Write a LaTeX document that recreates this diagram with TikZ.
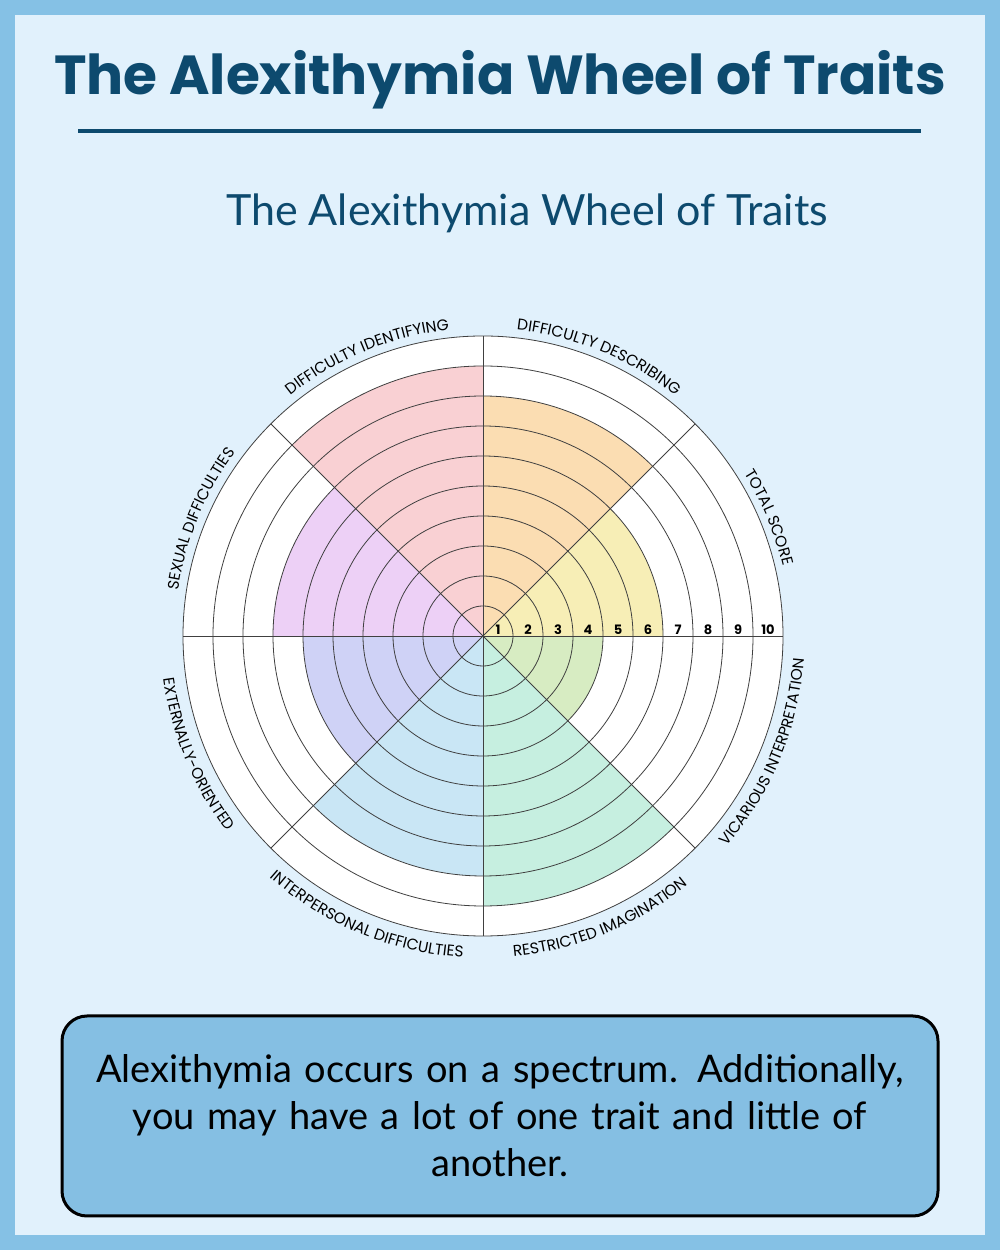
\documentclass[tikz,border=0pt]{standalone}
\usepackage{fontspec}
\setmainfont{Lato}
\newfontfamily\titlefont{Poppins}
\newfontfamily\labfont{Poppins}
\usetikzlibrary{decorations.text}
\definecolor{border}{HTML}{85C1E5}
\definecolor{bg}{HTML}{E1F1FC}
\definecolor{navy}{HTML}{0D4A6E}
\definecolor{boxc}{HTML}{85BFE3}
\definecolor{cpink}{HTML}{F9D0D3}
\definecolor{corange}{HTML}{FBDDB2}
\definecolor{cyellow}{HTML}{F7EEB6}
\definecolor{cgreen}{HTML}{D7ECC2}
\definecolor{cmint}{HTML}{C6EFE0}
\definecolor{cblue}{HTML}{C9E6F5}
\definecolor{clav}{HTML}{CFD2F6}
\definecolor{cviol}{HTML}{EDD0F6}
\tikzset{
  ring/.style={draw=black!75,line width=0.8pt},
  numlab/.style={font=\labfont\bfseries\fontsize{13}{13}\selectfont,anchor=south,inner sep=1pt},
}
\newcommand{\sect}[4]{\fill[#1] (0,0) -- (#2:#4) arc[start angle=#2,end angle=#3,radius=#4] -- cycle;}
\newcommand{\toplab}[2]{\path[decorate,decoration={text along path,text align=center,text={|\labfont\fontsize{15.5}{15.5}\selectfont|#2}}] (#1+44:308) arc[start angle=#1+44,end angle=#1-44,radius=308];}
\newcommand{\botlab}[2]{\path[decorate,decoration={text along path,text align=center,text={|\labfont\fontsize{15.5}{15.5}\selectfont|#2}}] (#1-44:322) arc[start angle=#1-44,end angle=#1+44,radius=322];}
\begin{document}
\begin{tikzpicture}[x=1pt,y=1pt]
\useasboundingbox (0,0) rectangle (1000,1250);
\fill[border] (0,0) rectangle (1000,1250);
\fill[bg] (15,15) rectangle (985,1235);
\node[font=\titlefont\bfseries\fontsize{55}{55}\selectfont,text=navy] (title) at (500,1170) {The Alexithymia Wheel of Traits};
\draw[navy,line width=4pt] (78,1119) -- (921,1119);
\node[font=\fontsize{43}{43}\selectfont,text=navy] (sub) at (527,1037) {The Alexithymia Wheel of Traits};
\begin{scope}[shift={(483,614)}]
  \fill[white] (0,0) circle (300);
  \sect{cpink}{90}{135}{270}
  \sect{corange}{45}{90}{240}
  \sect{cyellow}{0}{45}{180}
  \sect{cgreen}{-45}{0}{120}
  \sect{cmint}{-90}{-45}{270}
  \sect{cblue}{-135}{-90}{240}
  \sect{clav}{180}{225}{180}
  \sect{cviol}{135}{180}{210}
  \foreach \k in {1,...,10} {\draw[ring] (0,0) circle (30*\k);}
  \foreach \a in {0,45,...,315} {\draw[ring] (0,0) -- (\a:300);}
  \foreach \k in {1,...,10} {\node[numlab] (n\k) at (30*\k-15,0) {\k};}
  \toplab{112.5}{DIFFICULTY IDENTIFYING}
  \toplab{67.5}{DIFFICULTY DESCRIBING}
  \toplab{22.5}{TOTAL SCORE}
  \toplab{157.5}{SEXUAL DIFFICULTIES}
  \botlab{-22.5}{VICARIOUS INTERPRETATION}
  \botlab{-67.5}{RESTRICTED IMAGINATION}
  \botlab{-112.5}{INTERPERSONAL DIFFICULTIES}
  \botlab{-157.5}{EXTERNALLY-ORIENTED}
\end{scope}
\draw[fill=boxc,line width=3pt,rounded corners=25pt] (62,34) rectangle (938,234);
\node[font=\fontsize{38}{47}\selectfont,align=center,text width=860pt] (note) at (500,134) {Alexithymia occurs on a spectrum. Additionally,\\ you may have a lot of one trait and little of\\ another.};
\end{tikzpicture}
\end{document}
